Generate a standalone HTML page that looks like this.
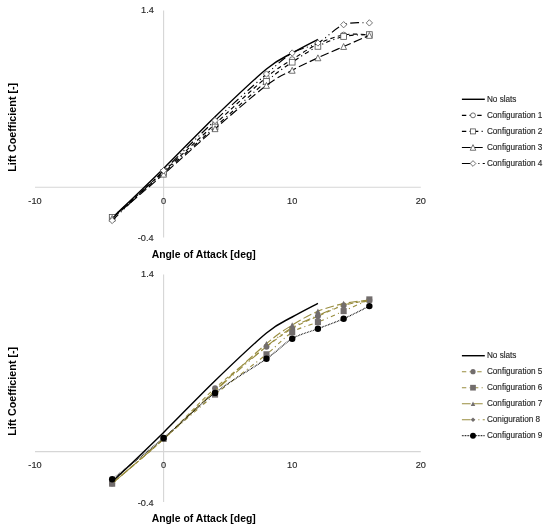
<!DOCTYPE html>
<html><head><meta charset="utf-8"><title>Lift Coefficient vs Angle of Attack</title>
<style>
html,body{margin:0;padding:0;background:#fff;}
body{width:550px;height:529px;overflow:hidden;}
svg{display:block;}
text{font-family:"Liberation Sans",sans-serif;fill:#262626;}
.tk{font-size:9.2px;stroke:#333;stroke-width:0.15px;}
.lg{font-size:8.2px;stroke:#333;stroke-width:0.15px;}
.ttl{font-weight:bold;fill:#000;}
.tx{font-size:10.4px;}
.ty{font-size:10.75px;}
</style></head><body>
<svg width="550" height="529" viewBox="0 0 550 529">
<rect width="550" height="529" fill="#fff"/>
<g transform="translate(0,0)">
<line x1="35.00" y1="187.30" x2="420.80" y2="187.30" stroke="#d6d6d6" stroke-width="1.1"/>
<line x1="163.60" y1="10.5" x2="163.60" y2="237.40" stroke="#d6d6d6" stroke-width="1.1"/>
<text x="35.00" y="204.3" text-anchor="middle" class="tk">-10</text>
<text x="163.60" y="204.3" text-anchor="middle" class="tk">0</text>
<text x="292.20" y="204.3" text-anchor="middle" class="tk">10</text>
<text x="420.80" y="204.3" text-anchor="middle" class="tk">20</text>
<text x="153.8" y="13.3" text-anchor="end" class="tk">1.4</text>
<text x="153.6" y="241.20" text-anchor="end" class="tk">-0.4</text>
<text x="203.7" y="257.70" text-anchor="middle" class="ttl tx">Angle of Attack [deg]</text>
<text transform="translate(16.0,127.3) rotate(-90)" text-anchor="middle" class="ttl ty">Lift Coefficient [-]</text>
<path d="M112.16 218.00 C120.73 209.73 146.45 185.28 163.60 168.40 C180.75 151.52 197.89 133.27 215.04 116.70 C232.19 100.13 253.62 79.62 266.48 69.00 C279.34 58.38 283.63 57.95 292.20 53.00 C300.77 48.05 313.63 41.58 317.92 39.30" fill="none" stroke="#000" stroke-width="1.45"/>
<path d="M112.16 218.00 C120.73 210.25 146.45 187.17 163.60 171.50 C180.75 155.83 197.89 139.70 215.04 124.00 C232.19 108.30 253.62 88.05 266.48 77.30 C279.34 66.55 283.63 65.05 292.20 59.50 C300.77 53.95 309.35 48.10 317.92 44.00 C326.49 39.90 335.07 36.47 343.64 34.90 C352.21 33.33 365.07 34.65 369.36 34.60" fill="none" stroke="#000" stroke-width="1.15" stroke-dasharray="4.38 3.29"/>
<circle cx="112.16" cy="218.00" r="2.75" fill="#fff" stroke="#505050" stroke-width="0.80"/>
<circle cx="163.60" cy="171.50" r="2.75" fill="#fff" stroke="#505050" stroke-width="0.80"/>
<circle cx="215.04" cy="124.00" r="2.75" fill="#fff" stroke="#505050" stroke-width="0.80"/>
<circle cx="266.48" cy="77.30" r="2.75" fill="#fff" stroke="#505050" stroke-width="0.80"/>
<circle cx="292.20" cy="59.50" r="2.75" fill="#fff" stroke="#505050" stroke-width="0.80"/>
<circle cx="317.92" cy="44.00" r="2.75" fill="#fff" stroke="#505050" stroke-width="0.80"/>
<circle cx="343.64" cy="34.90" r="2.75" fill="#fff" stroke="#505050" stroke-width="0.80"/>
<circle cx="369.36" cy="34.60" r="2.75" fill="#fff" stroke="#505050" stroke-width="0.80"/>
<path d="M112.16 217.40 C120.73 209.92 146.45 187.57 163.60 172.50 C180.75 157.43 197.89 142.18 215.04 127.00 C232.19 111.82 253.62 92.20 266.48 81.40 C279.34 70.60 283.63 68.03 292.20 62.20 C300.77 56.37 309.35 50.68 317.92 46.40 C326.49 42.12 335.07 38.47 343.64 36.50 C352.21 34.53 365.07 34.92 369.36 34.60" fill="none" stroke="#000" stroke-width="1.15" stroke-dasharray="4.38 3.29 1.09 3.29"/>
<rect x="109.31" y="214.55" width="5.70" height="5.70" fill="#fff" stroke="#505050" stroke-width="0.80"/>
<rect x="160.75" y="169.65" width="5.70" height="5.70" fill="#fff" stroke="#505050" stroke-width="0.80"/>
<rect x="212.19" y="124.15" width="5.70" height="5.70" fill="#fff" stroke="#505050" stroke-width="0.80"/>
<rect x="263.63" y="78.55" width="5.70" height="5.70" fill="#fff" stroke="#505050" stroke-width="0.80"/>
<rect x="289.35" y="59.35" width="5.70" height="5.70" fill="#fff" stroke="#505050" stroke-width="0.80"/>
<rect x="315.07" y="43.55" width="5.70" height="5.70" fill="#fff" stroke="#505050" stroke-width="0.80"/>
<rect x="340.79" y="33.65" width="5.70" height="5.70" fill="#fff" stroke="#505050" stroke-width="0.80"/>
<rect x="366.51" y="31.75" width="5.70" height="5.70" fill="#fff" stroke="#505050" stroke-width="0.80"/>
<path d="M112.16 218.30 C120.73 210.95 146.45 189.13 163.60 174.20 C180.75 159.27 197.89 143.50 215.04 128.70 C232.19 113.90 253.62 95.13 266.48 85.40 C279.34 75.67 283.63 74.90 292.20 70.30 C300.77 65.70 309.35 61.77 317.92 57.80 C326.49 53.83 335.07 50.23 343.64 46.50 C352.21 42.77 365.07 37.25 369.36 35.40" fill="none" stroke="#000" stroke-width="1.15" stroke-dasharray="8.76 3.29"/>
<path d="M112.16 215.35L115.11 221.25L109.21 221.25Z" fill="#fff" stroke="#505050" stroke-width="0.80"/>
<path d="M163.60 171.25L166.55 177.15L160.65 177.15Z" fill="#fff" stroke="#505050" stroke-width="0.80"/>
<path d="M215.04 125.75L217.99 131.65L212.09 131.65Z" fill="#fff" stroke="#505050" stroke-width="0.80"/>
<path d="M266.48 82.45L269.43 88.35L263.53 88.35Z" fill="#fff" stroke="#505050" stroke-width="0.80"/>
<path d="M292.20 67.35L295.15 73.25L289.25 73.25Z" fill="#fff" stroke="#505050" stroke-width="0.80"/>
<path d="M317.92 54.85L320.87 60.75L314.97 60.75Z" fill="#fff" stroke="#505050" stroke-width="0.80"/>
<path d="M343.64 43.55L346.59 49.45L340.69 49.45Z" fill="#fff" stroke="#505050" stroke-width="0.80"/>
<path d="M369.36 32.45L372.31 38.35L366.41 38.35Z" fill="#fff" stroke="#505050" stroke-width="0.80"/>
<path d="M112.16 220.50 C120.73 212.18 146.45 187.27 163.60 170.60 C180.75 153.93 197.89 136.60 215.04 120.50 C232.19 104.40 253.62 85.25 266.48 74.00 C279.34 62.75 283.63 58.17 292.20 53.00 C300.77 47.83 309.35 47.72 317.92 43.00 C326.49 38.28 335.07 28.05 343.64 24.70 C352.21 21.35 365.07 23.20 369.36 22.90" fill="none" stroke="#000" stroke-width="1.15" stroke-dasharray="8.76 3.29 1.09 3.29 1.09 3.29"/>
<path d="M112.16 217.35L115.31 220.50L112.16 223.65L109.01 220.50Z" fill="#fff" stroke="#505050" stroke-width="0.80"/>
<path d="M163.60 167.45L166.75 170.60L163.60 173.75L160.45 170.60Z" fill="#fff" stroke="#505050" stroke-width="0.80"/>
<path d="M215.04 117.35L218.19 120.50L215.04 123.65L211.89 120.50Z" fill="#fff" stroke="#505050" stroke-width="0.80"/>
<path d="M266.48 70.85L269.63 74.00L266.48 77.15L263.33 74.00Z" fill="#fff" stroke="#505050" stroke-width="0.80"/>
<path d="M292.20 49.85L295.35 53.00L292.20 56.15L289.05 53.00Z" fill="#fff" stroke="#505050" stroke-width="0.80"/>
<path d="M317.92 39.85L321.07 43.00L317.92 46.15L314.77 43.00Z" fill="#fff" stroke="#505050" stroke-width="0.80"/>
<path d="M343.64 21.55L346.79 24.70L343.64 27.85L340.49 24.70Z" fill="#fff" stroke="#505050" stroke-width="0.80"/>
<path d="M369.36 19.75L372.51 22.90L369.36 26.05L366.21 22.90Z" fill="#fff" stroke="#505050" stroke-width="0.80"/>
<path d="M461.9 99.30H484.8" fill="none" stroke="#000" stroke-width="1.45"/>
<text x="486.9" y="101.95" class="lg">No slats</text>
<path d="M461.9 115.35H484.8" fill="none" stroke="#000" stroke-width="1.15" stroke-dasharray="4.38 3.29"/>
<circle cx="473.00" cy="115.35" r="2.45" fill="#fff" stroke="#505050" stroke-width="0.80"/>
<text x="486.9" y="118.00" class="lg">Configuration 1</text>
<path d="M461.9 131.40H484.8" fill="none" stroke="#000" stroke-width="1.15" stroke-dasharray="4.38 3.29 1.09 3.29"/>
<rect x="470.50" y="128.90" width="5.00" height="5.00" fill="#fff" stroke="#505050" stroke-width="0.80"/>
<text x="486.9" y="134.05" class="lg">Configuration 2</text>
<path d="M461.9 147.45H484.8" fill="none" stroke="#000" stroke-width="1.15" stroke-dasharray="8.76 3.29"/>
<path d="M473.00 144.65L475.80 150.25L470.20 150.25Z" fill="#fff" stroke="#505050" stroke-width="0.80"/>
<text x="486.9" y="150.10" class="lg">Configuration 3</text>
<path d="M461.9 163.50H484.8" fill="none" stroke="#000" stroke-width="1.15" stroke-dasharray="8.76 3.29 1.09 3.29 1.09 3.29"/>
<path d="M473.00 160.65L475.85 163.50L473.00 166.35L470.15 163.50Z" fill="#fff" stroke="#505050" stroke-width="0.80"/>
<text x="486.9" y="166.15" class="lg">Configuration 4</text>
</g>
<g transform="translate(0,264)">
<line x1="35.00" y1="187.65" x2="420.80" y2="187.65" stroke="#d6d6d6" stroke-width="1.1"/>
<line x1="163.60" y1="10.5" x2="163.60" y2="238.10" stroke="#d6d6d6" stroke-width="1.1"/>
<text x="35.00" y="204.3" text-anchor="middle" class="tk">-10</text>
<text x="163.60" y="204.3" text-anchor="middle" class="tk">0</text>
<text x="292.20" y="204.3" text-anchor="middle" class="tk">10</text>
<text x="420.80" y="204.3" text-anchor="middle" class="tk">20</text>
<text x="153.8" y="13.3" text-anchor="end" class="tk">1.4</text>
<text x="153.6" y="241.76" text-anchor="end" class="tk">-0.4</text>
<text x="203.7" y="258.40" text-anchor="middle" class="ttl tx">Angle of Attack [deg]</text>
<text transform="translate(16.0,127.3) rotate(-90)" text-anchor="middle" class="ttl ty">Lift Coefficient [-]</text>
<path d="M112.16 218.00 C120.73 209.73 146.45 185.28 163.60 168.40 C180.75 151.52 197.89 133.27 215.04 116.70 C232.19 100.13 253.62 79.62 266.48 69.00 C279.34 58.38 283.63 57.95 292.20 53.00 C300.77 48.05 313.63 41.58 317.92 39.30" fill="none" stroke="#000" stroke-width="1.45"/>
<path d="M112.16 219.50 C120.73 212.08 146.45 190.88 163.60 175.00 C180.75 159.12 197.89 139.58 215.04 124.20 C232.19 108.82 253.62 92.65 266.48 82.70 C279.34 72.75 283.63 69.58 292.20 64.50 C300.77 59.42 309.35 56.03 317.92 52.20 C326.49 48.37 335.07 44.20 343.64 41.50 C352.21 38.80 365.07 36.92 369.36 36.00" fill="none" stroke="#998d3f" stroke-width="1.10" stroke-dasharray="4.38 3.29"/>
<circle cx="112.16" cy="219.50" r="2.95" fill="#726d6d"/>
<circle cx="163.60" cy="175.00" r="2.95" fill="#726d6d"/>
<circle cx="215.04" cy="124.20" r="2.95" fill="#726d6d"/>
<circle cx="266.48" cy="82.70" r="2.95" fill="#726d6d"/>
<circle cx="292.20" cy="64.50" r="2.95" fill="#726d6d"/>
<circle cx="317.92" cy="52.20" r="2.95" fill="#726d6d"/>
<circle cx="343.64" cy="41.50" r="2.95" fill="#726d6d"/>
<circle cx="369.36" cy="36.00" r="2.95" fill="#726d6d"/>
<path d="M112.16 219.70 C120.73 212.22 146.45 189.65 163.60 174.80 C180.75 159.95 197.89 144.68 215.04 130.60 C232.19 116.52 253.62 100.68 266.48 90.30 C279.34 79.92 283.63 73.67 292.20 68.30 C300.77 62.93 309.35 61.63 317.92 58.10 C326.49 54.57 335.07 50.88 343.64 47.10 C352.21 43.32 365.07 37.35 369.36 35.40" fill="none" stroke="#998d3f" stroke-width="1.10" stroke-dasharray="4.38 3.29 1.09 3.29"/>
<rect x="109.11" y="216.65" width="6.10" height="6.10" fill="#726d6d"/>
<rect x="160.55" y="171.75" width="6.10" height="6.10" fill="#726d6d"/>
<rect x="211.99" y="127.55" width="6.10" height="6.10" fill="#726d6d"/>
<rect x="263.43" y="87.25" width="6.10" height="6.10" fill="#726d6d"/>
<rect x="289.15" y="65.25" width="6.10" height="6.10" fill="#726d6d"/>
<rect x="314.87" y="55.05" width="6.10" height="6.10" fill="#726d6d"/>
<rect x="340.59" y="44.05" width="6.10" height="6.10" fill="#726d6d"/>
<rect x="366.31" y="32.35" width="6.10" height="6.10" fill="#726d6d"/>
<path d="M112.16 219.30 C120.73 211.92 146.45 190.47 163.60 175.00 C180.75 159.53 197.89 142.38 215.04 126.50 C232.19 110.62 253.62 90.60 266.48 79.70 C279.34 68.80 283.63 66.50 292.20 61.10 C300.77 55.70 309.35 50.88 317.92 47.30 C326.49 43.72 335.07 41.48 343.64 39.60 C352.21 37.72 365.07 36.60 369.36 36.00" fill="none" stroke="#998d3f" stroke-width="1.10" stroke-dasharray="8.76 3.29"/>
<path d="M112.16 216.50L114.96 222.10L109.36 222.10Z" fill="#726d6d"/>
<path d="M163.60 172.20L166.40 177.80L160.80 177.80Z" fill="#726d6d"/>
<path d="M215.04 123.70L217.84 129.30L212.24 129.30Z" fill="#726d6d"/>
<path d="M266.48 76.90L269.28 82.50L263.68 82.50Z" fill="#726d6d"/>
<path d="M292.20 58.30L295.00 63.90L289.40 63.90Z" fill="#726d6d"/>
<path d="M317.92 44.50L320.72 50.10L315.12 50.10Z" fill="#726d6d"/>
<path d="M343.64 36.80L346.44 42.40L340.84 42.40Z" fill="#726d6d"/>
<path d="M369.36 33.20L372.16 38.80L366.56 38.80Z" fill="#726d6d"/>
<path d="M112.16 219.50 C120.73 212.08 146.45 190.42 163.60 175.00 C180.75 159.58 197.89 142.42 215.04 127.00 C232.19 111.58 253.62 93.08 266.48 82.50 C279.34 71.92 283.63 68.67 292.20 63.50 C300.77 58.33 309.35 55.25 317.92 51.50 C326.49 47.75 335.07 43.42 343.64 41.00 C352.21 38.58 365.07 37.67 369.36 37.00" fill="none" stroke="#998d3f" stroke-width="1.10" stroke-dasharray="8.76 3.29 1.09 3.29 1.09 3.29"/>
<path d="M112.16 216.70L114.96 219.50L112.16 222.30L109.36 219.50Z" fill="#726d6d"/>
<path d="M163.60 172.20L166.40 175.00L163.60 177.80L160.80 175.00Z" fill="#726d6d"/>
<path d="M215.04 124.20L217.84 127.00L215.04 129.80L212.24 127.00Z" fill="#726d6d"/>
<path d="M266.48 79.70L269.28 82.50L266.48 85.30L263.68 82.50Z" fill="#726d6d"/>
<path d="M292.20 60.70L295.00 63.50L292.20 66.30L289.40 63.50Z" fill="#726d6d"/>
<path d="M317.92 48.70L320.72 51.50L317.92 54.30L315.12 51.50Z" fill="#726d6d"/>
<path d="M343.64 38.20L346.44 41.00L343.64 43.80L340.84 41.00Z" fill="#726d6d"/>
<path d="M369.36 34.20L372.16 37.00L369.36 39.80L366.56 37.00Z" fill="#726d6d"/>
<path d="M112.16 215.30 C120.73 208.42 146.45 188.40 163.60 174.00 C180.75 159.60 197.89 142.12 215.04 128.90 C232.19 115.68 253.62 103.73 266.48 94.70 C279.34 85.67 283.63 79.70 292.20 74.70 C300.77 69.70 309.35 68.03 317.92 64.70 C326.49 61.37 335.07 58.47 343.64 54.70 C352.21 50.93 365.07 44.20 369.36 42.10" fill="none" stroke="#000" stroke-width="1.20" stroke-dasharray="0.80 0.80"/>
<circle cx="112.16" cy="215.30" r="3.20" fill="#000"/>
<circle cx="163.60" cy="174.00" r="3.20" fill="#000"/>
<circle cx="215.04" cy="128.90" r="3.20" fill="#000"/>
<circle cx="266.48" cy="94.70" r="3.20" fill="#000"/>
<circle cx="292.20" cy="74.70" r="3.20" fill="#000"/>
<circle cx="317.92" cy="64.70" r="3.20" fill="#000"/>
<circle cx="343.64" cy="54.70" r="3.20" fill="#000"/>
<circle cx="369.36" cy="42.10" r="3.20" fill="#000"/>
<path d="M461.9 91.70H484.8" fill="none" stroke="#000" stroke-width="1.45"/>
<text x="486.9" y="94.35" class="lg">No slats</text>
<path d="M461.9 107.70H484.8" fill="none" stroke="#998d3f" stroke-width="1.10" stroke-dasharray="4.38 3.29"/>
<circle cx="473.00" cy="107.70" r="2.60" fill="#726d6d"/>
<text x="486.9" y="110.35" class="lg">Configuration 5</text>
<path d="M461.9 123.70H484.8" fill="none" stroke="#998d3f" stroke-width="1.10" stroke-dasharray="4.38 3.29 1.09 3.29"/>
<rect x="470.15" y="120.85" width="5.70" height="5.70" fill="#726d6d"/>
<text x="486.9" y="126.35" class="lg">Configuration 6</text>
<path d="M461.9 139.70H484.8" fill="none" stroke="#998d3f" stroke-width="1.10" stroke-dasharray="8.76 3.29"/>
<path d="M473.00 137.45L475.25 141.95L470.75 141.95Z" fill="#726d6d"/>
<text x="486.9" y="142.35" class="lg">Configuration 7</text>
<path d="M461.9 155.70H484.8" fill="none" stroke="#998d3f" stroke-width="1.10" stroke-dasharray="8.76 3.29 1.09 3.29 1.09 3.29"/>
<path d="M473.00 153.40L475.30 155.70L473.00 158.00L470.70 155.70Z" fill="#726d6d"/>
<text x="486.9" y="158.35" class="lg">Coniguration 8</text>
<path d="M461.9 171.70H484.8" fill="none" stroke="#000" stroke-width="1.20" stroke-dasharray="0.80 0.80"/>
<circle cx="473.00" cy="171.70" r="2.95" fill="#000"/>
<text x="486.9" y="174.35" class="lg">Configuration 9</text>
</g>
</svg>
</body></html>
